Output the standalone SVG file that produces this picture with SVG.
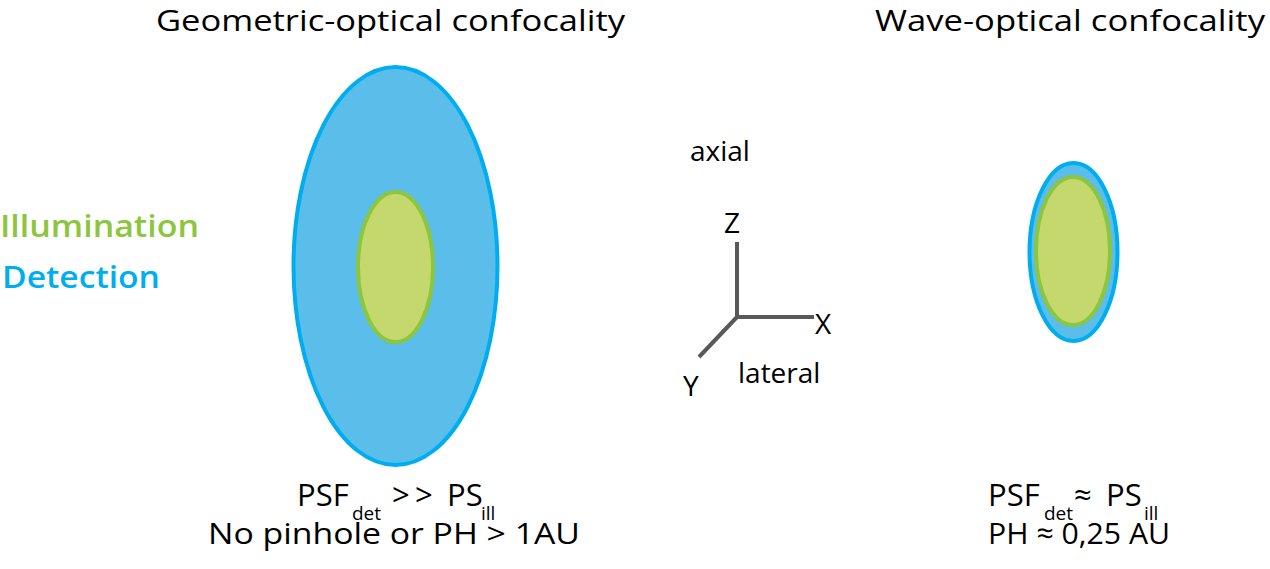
<svg xmlns="http://www.w3.org/2000/svg" width="1270" height="569" viewBox="0 0 1270 569">
<style>
text{font-family:"Open Sans","Noto Sans",sans-serif;fill:#000}
.t{font-size:30px}
.c{font-size:31px}
.s{font-size:19px}
.lab{font-size:31px;font-weight:600}
.ax{font-size:28px}
.det{fill:#5bbde9;stroke:#00aeef;stroke-width:4}
.ill{fill:#c5d86d;stroke:#8cc63f;stroke-width:4}
.axis{stroke:#595959;stroke-width:4;fill:none;stroke-linecap:butt}
</style>
<rect width="1270" height="569" fill="#fff"/>
<g id="title-left"><text class="t" x="156" y="31" textLength="469" lengthAdjust="spacingAndGlyphs">Geometric-optical confocality</text></g>
<g id="title-right"><text class="t" x="875" y="31" textLength="390" lengthAdjust="spacingAndGlyphs">Wave-optical confocality</text></g>
<g id="legend">
<text class="lab" x="0" y="237" style="fill:#8cc63f" textLength="199" lengthAdjust="spacingAndGlyphs">Illumination</text>
<text class="lab" x="2" y="288" style="fill:#00aeef" textLength="158" lengthAdjust="spacingAndGlyphs">Detection</text>
</g>
<g id="psf-left">
<ellipse class="det" cx="395.5" cy="266" rx="102" ry="199"/>
<ellipse class="ill" cx="395.5" cy="267" rx="37.5" ry="75"/>
</g>
<g id="psf-right">
<ellipse class="det" cx="1073.5" cy="252" rx="44" ry="89" stroke-width="2.5"/>
<ellipse class="ill" cx="1073" cy="251" rx="37" ry="74"/>
</g>
<g id="axes">
<g id="connectors">
<path class="axis" d="M737 242 V317 H814 M737 317 L699 357"/>
</g>
<text class="ax" x="690" y="161">axial</text>
<text class="ax" x="724" y="233">Z</text>
<text class="ax" x="815" y="334">X</text>
<text class="ax" x="683" y="396">Y</text>
<text class="ax" x="738" y="383">lateral</text>
</g>
<g id="caption-left">
<text class="c" x="297" y="506">PSF<tspan class="s" x="352" y="520">det</tspan><tspan x="392" y="506">&gt;</tspan><tspan x="415">&gt;</tspan><tspan x="447">PS</tspan><tspan class="s" x="481" y="520">ill</tspan></text>
<text class="t" x="208" y="544" textLength="372" lengthAdjust="spacingAndGlyphs">No pinhole or PH &gt; 1AU</text>
</g>
<g id="caption-right">
<text class="c" x="988" y="506">PSF<tspan class="s" x="1044" y="520">det</tspan><tspan x="1074" y="506">≈</tspan><tspan x="1106">PS</tspan><tspan class="s" x="1144" y="520">ill</tspan></text>
<text class="t" x="988" y="544" textLength="182" lengthAdjust="spacingAndGlyphs">PH ≈ 0,25 AU</text>
</g>
</svg>
